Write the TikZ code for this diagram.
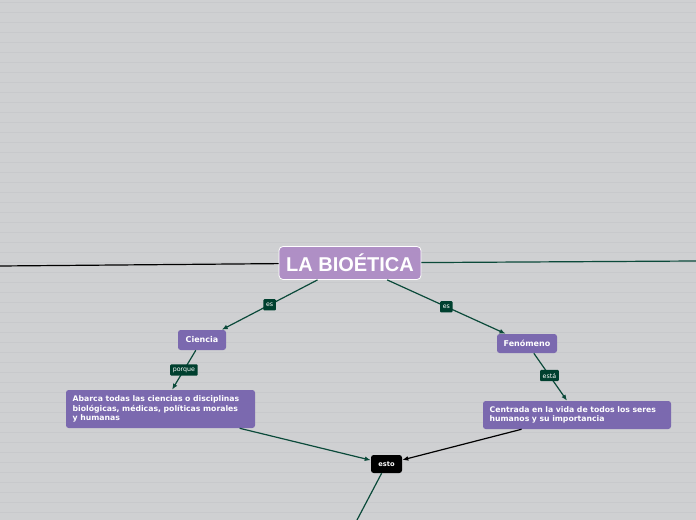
\documentclass[tikz,border=0pt]{standalone}
\usepackage{fontspec}
\setmainfont{DejaVu Sans}
\newfontfamily\titlefont{Liberation Sans}
\usetikzlibrary{arrows.meta}
\definecolor{bgc}{HTML}{CFD0D2}
\definecolor{stripe}{HTML}{C8C9CC}
\definecolor{lav}{HTML}{AF8FC5}
\definecolor{purp}{HTML}{7B69AF}
\definecolor{dgreen}{HTML}{00402F}
\definecolor{lgreen}{HTML}{0B4A3A}
\tikzset{
  box/.style={fill=purp, rounded corners=2pt, text=white, font=\bfseries\fontsize{6}{7.5}\selectfont, inner sep=2pt},
  longbox/.style={box, font=\bfseries\fontsize{5.8}{7.3}\selectfont, align=left, inner xsep=5pt, anchor=center},
  lbl/.style={fill=dgreen, rounded corners=0.8pt, text=white, font=\fontsize{4.7}{5}\selectfont, inner xsep=2pt, inner ysep=1.5pt, minimum height=8.5pt},
  conn/.style={draw=lgreen, line width=0.9pt, -{Latex[length=4.5pt,width=3.6pt]}},
  bconn/.style={draw=black, line width=0.9pt, -{Latex[length=4.5pt,width=3.6pt]}},
}
\begin{document}
\begin{tikzpicture}[x=0.75pt,y=-0.75pt]
\fill[bgc] (0,0) rectangle (696,520);
\useasboundingbox (0,0) rectangle (696,520);
\foreach \k in {0,...,51} {\draw[stripe, line width=0.4pt] (0,2+10*\k) -- (696,2+10*\k);}

\node[fill=lav, draw=white, line width=0.6pt, rounded corners=3pt, minimum width=106.5pt, minimum height=24.75pt, text=white, font=\titlefont\bfseries\fontsize{15}{15}\selectfont, inner sep=1pt] (main) at (350,263) {LA BIOÉTICA};
\node[box, minimum width=36pt, minimum height=15pt] (ciencia) at (202,340) {Ciencia};
\node[box, minimum width=45pt, minimum height=14.25pt] (fen) at (527,343.5) {Fenómeno};
\node[longbox, text width=131.75pt, minimum height=28.5pt] (abarca) at (160.5,409) {Abarca todas las ciencias o disciplinas\\ biológicas, médicas, políticas morales\\ y humanas};
\node[longbox, text width=131pt, minimum height=21pt] (centrada) at (577,415) {Centrada en la vida de todos los seres\\ humanos y su importancia};
\node[fill=black, rounded corners=2pt, text=white, font=\bfseries\fontsize{5}{6}\selectfont, minimum width=23.25pt, minimum height=13.5pt, inner sep=1pt] (esto) at (386.5,464) {esto};

\coordinate (leftend) at (0,266);
\coordinate (rightend) at (696,261);
\coordinate (downend) at (357,520);

\draw[black, line width=0.9pt] (main) -- (leftend);
\draw[lgreen, line width=0.9pt] (main) -- (rightend);
\path[conn] (main) -- node[lbl, pos=0.5] {es} (ciencia);
\path[conn] (main) -- node[lbl, pos=0.5] {es} (fen);
\path[conn] (ciencia) -- node[lbl, pos=0.5] {porque} (abarca);
\path[conn] (fen) -- node[lbl, pos=0.47] {está} (centrada);
\path[conn] (abarca) -- (esto);
\path[bconn] (centrada) -- (esto);
\draw[lgreen, line width=0.9pt] (esto) -- (downend);
\end{tikzpicture}
\end{document}
